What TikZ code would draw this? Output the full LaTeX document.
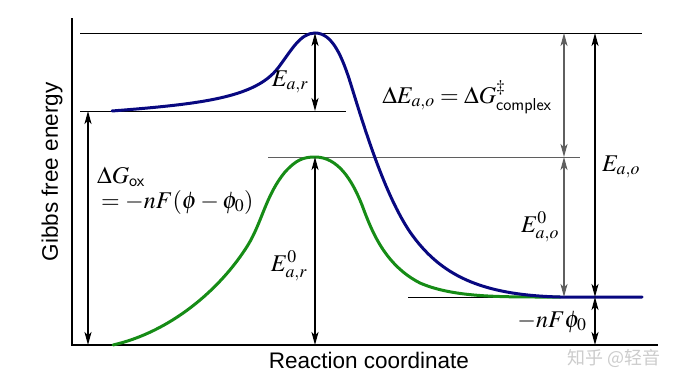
\documentclass[tikz,border=0pt]{standalone}
\usepackage{mathptmx}
\usepackage{fontspec}
\setsansfont{Liberation Sans}
\newfontfamily\cjkfont{Noto Sans CJK SC}
\usetikzlibrary{arrows.meta}
\definecolor{navyc}{RGB}{8,8,128}
\definecolor{greenc}{RGB}{22,140,22}
\definecolor{grayc}{RGB}{95,95,95}
\tikzset{
  curveb/.style={line width=3pt,navyc,line cap=round},
  curveg/.style={line width=3pt,greenc,line cap=round},
  level/.style={line width=1pt,black},
  glevel/.style={line width=1pt,grayc},
  dim/.style={line width=1.1pt,black,{Stealth[length=13pt,width=7pt,inset=3.5pt]}-{Stealth[length=13pt,width=7pt,inset=3.5pt]}},
  gdim/.style={dim,grayc},
  lab/.style={inner sep=0pt,font=\fontsize{24}{28}\selectfont},
  slab/.style={inner sep=0pt,font=\fontsize{22.5}{26}\selectfont\sffamily},
}
\begin{document}
\begin{tikzpicture}[x=1pt,y=-1pt]
\useasboundingbox (0,0) rectangle (686,386);
% axes
\coordinate (ytop) at (72,18);
\coordinate (orig) at (72,345);
\coordinate (xend) at (658,345);
\draw[line width=1.4pt] (ytop) -- (orig) -- (xend);
% levels
\coordinate (l1a) at (80,33);  \coordinate (l1b) at (642,33);
\coordinate (l2a) at (80,111); \coordinate (l2b) at (346,111);
\coordinate (l3a) at (268,157);\coordinate (l3b) at (580,157);
\coordinate (l4a) at (408,297);\coordinate (l4b) at (642,297);
\draw[level] (l1a) -- (l1b);
\draw[level] (l2a) -- (l2b);
\draw[glevel] (l3a) -- (l3b);
\draw[level] (l4a) -- (l4b);
% curves
\draw[curveg] (113,345) .. controls (170,332) and (220,290) .. (248,245)
  .. controls (262,222) and (266,195) .. (285,172)
  .. controls (296,160) and (303,157) .. (315,157)
  .. controls (338,157) and (352,180) .. (362,205)
  .. controls (372,232) and (385,265) .. (420,283)
  .. controls (450,296) and (490,297) .. (540,297) -- (560,297);
\draw[curveb] (112,111) .. controls (200,104) and (255,98) .. (278,68)
  .. controls (291,51) and (300,33) .. (315,33)
  .. controls (332,33) and (342,55) .. (352,88)
  .. controls (365,130) and (385,195) .. (410,232)
  .. controls (440,275) and (480,295) .. (560,297) -- (642,297);
% dimension arrows
\coordinate (a1) at (88,111);  \coordinate (a2) at (88,345);
\coordinate (b1) at (315,33);  \coordinate (b2) at (315,111);
\coordinate (c1) at (315,157); \coordinate (c2) at (315,345);
\coordinate (d1) at (564,33);  \coordinate (d2) at (564,157);
\coordinate (e1) at (564,157); \coordinate (e2) at (564,297);
\coordinate (f1) at (595,33);  \coordinate (f2) at (595,297);
\coordinate (g1) at (595,297); \coordinate (g2) at (595,345);
\draw[dim] (a1) -- (a2);
\draw[dim] (b1) -- (b2);
\draw[dim] (c1) -- (c2);
\draw[gdim] (d1) -- (d2);
\draw[gdim] (e1) -- (e2);
\draw[dim] (f1) -- (f2);
\draw[dim] (g1) -- (g2);
% labels
\node[lab] (ear) at (290,82) {$E_{a,r}$};
\node[lab] (ear0) at (289,266) {$E^0_{a,r}$};
\node[lab] (deao) at (467,97) {$\Delta E_{a,o}=\Delta G^{\ddagger}_{\mathsf{complex}}$};
\node[lab] (eao) at (621,167) {$E_{a,o}$};
\node[lab] (eao0) at (540,227) {$E^0_{a,o}$};
\node[lab] (nfp) at (552,322) {$-nF\phi_0$};
\node[lab,anchor=west] (dgox) at (97,177) {$\Delta G_{\mathsf{ox}}$};
\node[lab,anchor=west] (dgox2) at (101,202) {$=-nF(\phi-\phi_0)$};
\node[slab] (xlab) at (369,360) {Reaction coordinate};
\node[slab,rotate=90] (ylab) at (52,172) {Gibbs free energy};
\node[inner sep=0pt,text=black!20,font=\fontsize{18}{20}\selectfont\cjkfont] (wm) at (614,358) {知乎 @轻音};
\end{tikzpicture}
\end{document}
